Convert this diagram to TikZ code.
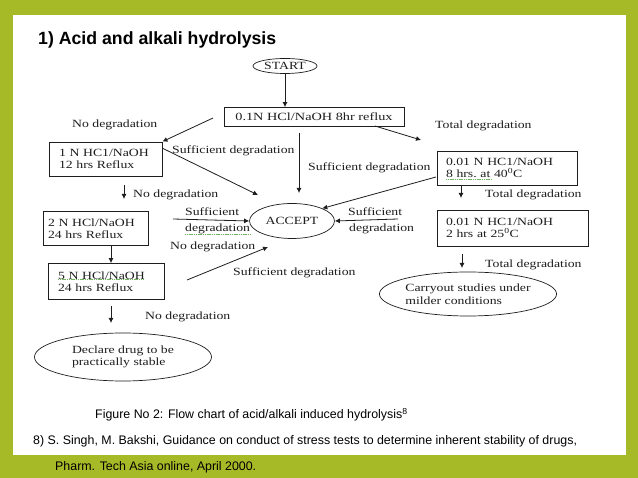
\documentclass[tikz,border=0pt]{standalone}
\usepackage{fontspec}
\setmainfont{Liberation Serif}
\newfontfamily\dia[FakeStretch=1.25]{Liberation Serif}
\newfontfamily\diawide[FakeStretch=1.3]{Liberation Serif}
\newfontfamily\sansf{Liberation Sans}
\usetikzlibrary{shapes.geometric,arrows.meta}
\definecolor{slidegreen}{RGB}{166,186,40}
\definecolor{ink}{RGB}{30,30,30}
\definecolor{spell}{RGB}{110,180,90}
\begin{document}
\begin{tikzpicture}[x=1pt,y=-1pt,
  diafont/.style={font=\dia\fontsize{11}{12.5}\selectfont, text=ink},
  bx/.style={diafont, draw=ink, line width=0.8pt, inner xsep=10pt, inner ysep=0pt, align=left},
  lbl/.style={diafont, inner sep=0pt, anchor=base west},
  oval/.style={diafont, ellipse, draw=ink, line width=0.7pt, inner sep=0pt, align=left},
  arr/.style={-{Latex[length=5pt,width=5pt]}, line width=0.8pt, draw=ink},
  squig/.style={draw=spell, line width=0.6pt, dash pattern=on 1.2pt off 0.6pt},
  txt/.style={inner sep=0pt, anchor=base west, text=black}
]
\useasboundingbox (0,0) rectangle (638,478);
\fill[slidegreen] (0,0) rectangle (638,478);
\fill[white] (13,15) rectangle (626,455);

% title
\node[txt, font=\sansf\bfseries\fontsize{17.7}{20}\selectfont] (title) at (38,45) {1) Acid and alkali hydrolysis};

% nodes
\node[oval, minimum width=64pt, minimum height=15pt] (start) at (285,66) {START};
\node[draw=ink, line width=0.8pt, text=ink, font=\diawide\fontsize{11}{12.5}\selectfont, minimum width=180pt, minimum height=19pt, inner sep=0pt] (b1) at (314,117) {0.1N HCl/NaOH 8hr reflux};
\node[bx, minimum width=113pt, minimum height=34pt, text width=93pt] (b2) at (105.5,159) {1 N HC1/NaOH\\12 hrs Reflux};
\node[bx, minimum width=140pt, minimum height=34pt, inner xsep=9pt, text width=122pt] (b3) at (507,168) {0.01 N HC1/NaOH\\8 hrs.\ at 40\textsuperscript{0}C};
\node[bx, minimum width=105pt, minimum height=34pt, inner xsep=5pt, text width=95pt] (b4) at (95.5,228.5) {2 N HCl/NaOH\\24 hrs Reflux};
\node[bx, minimum width=151pt, minimum height=36pt, inner xsep=9pt, text width=133pt] (b5) at (512.5,228) {0.01 N HC1/NaOH\\2 hrs at 25\textsuperscript{0}C};
\node[bx, minimum width=116pt, minimum height=36pt, text width=96pt] (b6) at (106,281.5) {5 N HCl/NaOH\\24 hrs Reflux};
\node[oval, minimum width=85pt, minimum height=35pt] (acc) at (292,221) {ACCEPT};
\node[oval, minimum width=177pt, minimum height=48pt] (decl) at (123,357) {Declare drug to be\\practically stable};
\node[oval, minimum width=164pt, minimum height=44pt] (carry) at (468,294) {Carryout studies under\\milder conditions};

% labels
\node[lbl] (l1) at (72,127.5) {No degradation};
\node[lbl] (l2) at (435,128.5) {Total degradation};
\node[lbl] (l3) at (172,153.5) {Sufficient degradation};
\node[lbl] (l4) at (308,170.5) {Sufficient degradation};
\node[lbl] (l5) at (133,197.5) {No degradation};
\node[lbl] (l6) at (485,197.5) {Total degradation};
\node[lbl] (l7) at (185,215.5) {Sufficient};
\node[lbl] (l8) at (185,231.5) {degradation};
\node[lbl] (l9) at (348,215.5) {Sufficient};
\node[lbl] (l10) at (349,231.5) {degradation};
\node[lbl] (l11) at (170,249.5) {No degradation};
\node[lbl] (l12) at (233,275.5) {Sufficient degradation};
\node[lbl] (l13) at (485,267.5) {Total degradation};
\node[lbl] (l14) at (145,319.5) {No degradation};

% spell-check underlines
\draw[squig] (185,234.5) -- (250,234.5);
\draw[squig] (446,179) -- (492,179);
\draw[squig] (58,279) -- (144,279);

% free ends
\coordinate (s1) at (213,118);
\coordinate (s2) at (375,126);
\coordinate (e2) at (421,140);
\coordinate (s3) at (299,133);
\coordinate (e3) at (299,193);
\coordinate (s4) at (162,148);
\coordinate (e4) at (258,195);
\coordinate (s5) at (436,177);
\coordinate (s6) at (124,185);
\coordinate (e6) at (124,199);
\coordinate (s7) at (461,185);
\coordinate (e7) at (461,198);
\coordinate (s8) at (173,219);
\coordinate (s9) at (398,219);
\coordinate (s10) at (187,280);
\coordinate (e10) at (268,247);
\coordinate (s11) at (462,254);
\coordinate (e11) at (462,268);
\coordinate (s12) at (111,306);
\coordinate (e12) at (111,323);

% connectors
\draw[arr] (start) -- (start |- b1.north);
\draw[arr] (s1) -- (b2.north east);
\draw[arr] (s2) -- (e2);
\draw[arr] (s3) -- (e3);
\draw[arr] (s4) -- (e4);
\draw[arr] (s5) -- (acc.north east);
\draw[arr] (s6) -- (e6);
\draw[arr] (s7) -- (e7);
\draw[arr] (s8) -- (acc.west);
\draw[arr] (s9) -- (acc.east);
\draw[arr] (b4.south -| s12) -- (b6.north -| s12);
\draw[arr] (s10) -- (e10);
\draw[arr] (s11) -- (e11);
\draw[arr] (s12) -- (e12);

% caption & reference
\node[txt, font=\sansf\fontsize{12.4}{14}\selectfont] (cap) at (95,419) {Figure No 2: Flow chart of acid/alkali induced hydrolysis\textsuperscript{8}};
\node[txt, font=\sansf\fontsize{12.4}{14}\selectfont] (ref1) at (33,445) {8) S. Singh, M. Bakshi, Guidance on conduct of stress tests to determine inherent stability of drugs,};
\node[txt, font=\sansf\fontsize{12.4}{14}\selectfont] (ref2) at (55,471) {Pharm. Tech Asia online, April 2000.};
\end{tikzpicture}
\end{document}
